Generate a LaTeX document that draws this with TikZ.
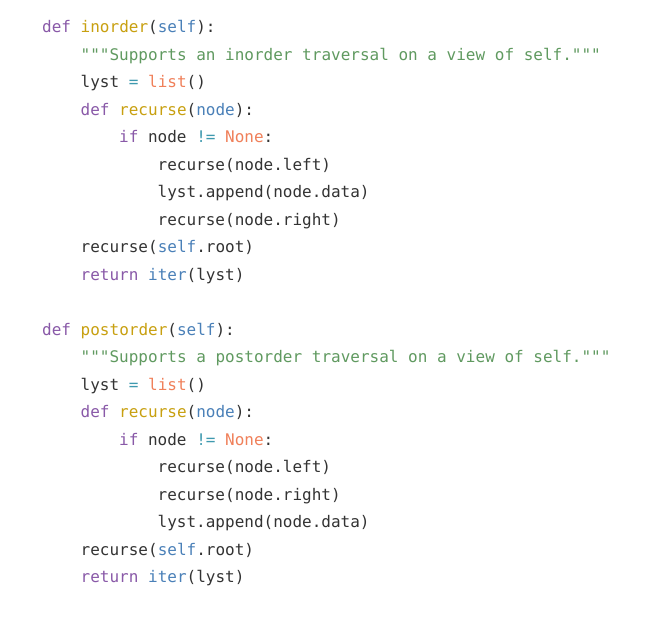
\documentclass[tikz,border=0pt]{standalone}
\usepackage{fontspec}
\newfontfamily\code{DejaVu Sans Mono}[Scale=1]
\definecolor{kw}{HTML}{8959A8}
\definecolor{fn}{HTML}{C8A010}
\definecolor{bl}{HTML}{4A80B8}
\definecolor{rd}{HTML}{F0805A}
\definecolor{st}{HTML}{609A60}
\definecolor{op}{HTML}{3E99AF}
\definecolor{tx}{HTML}{333333}
\newcommand{\K}[1]{\textcolor{kw}{#1}}
\newcommand{\F}[1]{\textcolor{fn}{#1}}
\newcommand{\B}[1]{\textcolor{bl}{#1}}
\newcommand{\R}[1]{\textcolor{rd}{#1}}
\newcommand{\Sg}[1]{\textcolor{st}{#1}}
\newcommand{\Op}[1]{\textcolor{op}{#1}}
\begin{document}
\begin{tikzpicture}[x=1bp,y=1bp,
  ln/.style={anchor=base west,inner sep=0pt,font=\code\fontsize{16bp}{18bp}\selectfont,text=tx}]
\useasboundingbox[fill=white] (0,0) rectangle (649,618);
\def\Y#1{618-#1-5.5}
\node[ln] (a1) at (42,{\Y{27}}) {\K{def} \F{inorder}(\B{self}):};
\node[ln] (a2) at (80.5,{\Y{55}}) {\Sg{"""Supports an inorder traversal on a view of self."""}};
\node[ln] (a3) at (80.5,{\Y{82}}) {lyst \Op{=} \R{list}()};
\node[ln] (a4) at (80.5,{\Y{110}}) {\K{def} \F{recurse}(\B{node}):};
\node[ln] (a5) at (119,{\Y{137}}) {\K{if} node \Op{!=} \R{None}:};
\node[ln] (a6) at (157.5,{\Y{165}}) {recurse(node.left)};
\node[ln] (a7) at (157.5,{\Y{192}}) {lyst.append(node.data)};
\node[ln] (a8) at (157.5,{\Y{220}}) {recurse(node.right)};
\node[ln] (a9) at (80.5,{\Y{247}}) {recurse(\B{self}.root)};
\node[ln] (a10) at (80.5,{\Y{275}}) {\K{return} \B{iter}(lyst)};
\node[ln] (b1) at (42,{\Y{330}}) {\K{def} \F{postorder}(\B{self}):};
\node[ln] (b2) at (80.5,{\Y{357}}) {\Sg{"""Supports a postorder traversal on a view of self."""}};
\node[ln] (b3) at (80.5,{\Y{385}}) {lyst \Op{=} \R{list}()};
\node[ln] (b4) at (80.5,{\Y{412}}) {\K{def} \F{recurse}(\B{node}):};
\node[ln] (b5) at (119,{\Y{440}}) {\K{if} node \Op{!=} \R{None}:};
\node[ln] (b6) at (157.5,{\Y{467}}) {recurse(node.left)};
\node[ln] (b7) at (157.5,{\Y{495}}) {recurse(node.right)};
\node[ln] (b8) at (157.5,{\Y{522}}) {lyst.append(node.data)};
\node[ln] (b9) at (80.5,{\Y{550}}) {recurse(\B{self}.root)};
\node[ln] (b10) at (80.5,{\Y{577}}) {\K{return} \B{iter}(lyst)};
\end{tikzpicture}
\end{document}
